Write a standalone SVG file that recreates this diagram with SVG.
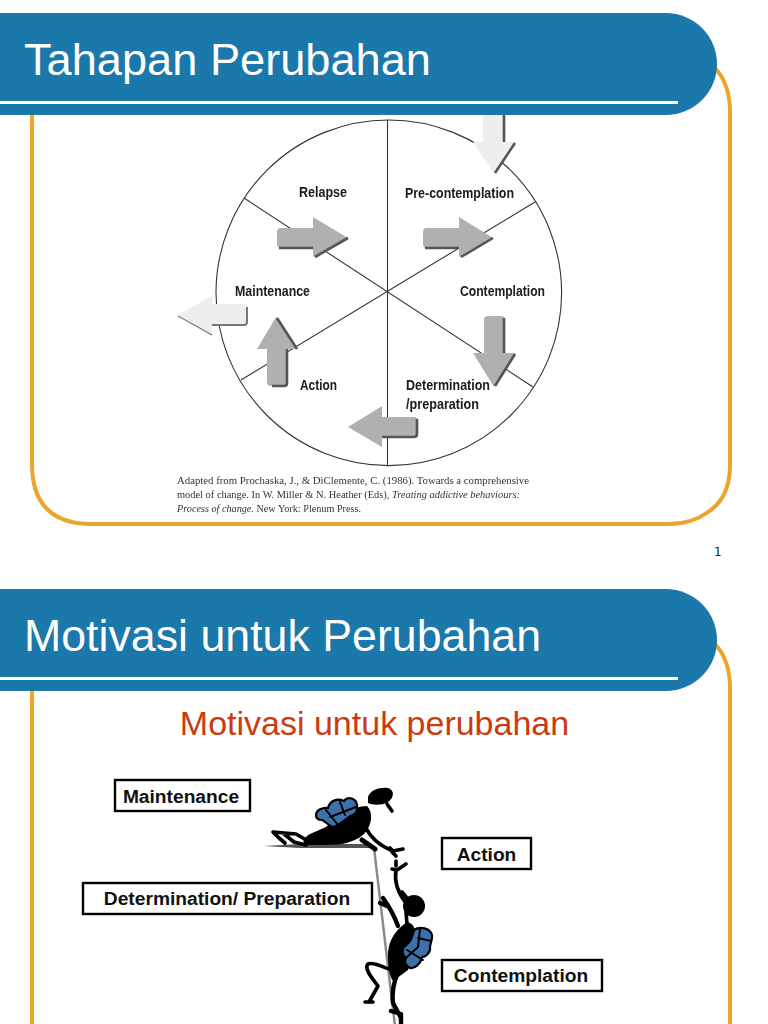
<svg xmlns="http://www.w3.org/2000/svg" width="768" height="1024" viewBox="0 0 768 1024">
<style>
.band{fill:#1a78ab}
.rule{fill:#fff}
.frame{fill:none;stroke:#eaa62a;stroke-width:4}
.title{font-family:"Liberation Sans",Arial,sans-serif;font-size:45px;fill:#fff}
.spoke{fill:none;stroke:#333;stroke-width:1.1}
.dark{fill:#b0b0b0}
.light{fill:#eeeeee}
.edge{fill:none;stroke:#555;stroke-width:2.6;stroke-linejoin:round}
.scan{font-family:"Liberation Sans Narrow","Liberation Sans",Arial,sans-serif;font-weight:bold;font-size:15px;fill:#1a1a1a}
.cite{font-family:"Liberation Serif","Times New Roman",serif;font-size:10.5px;fill:#333}
.box{fill:#fff;stroke:#000;stroke-width:2.4}
.lab{font-family:"Liberation Sans",Arial,sans-serif;font-weight:bold;font-size:19.2px;fill:#111;text-anchor:middle}
.sil{fill:#000}
.limb{fill:none;stroke:#000;stroke-width:3.6;stroke-linecap:round;stroke-linejoin:round}
.pack{fill:#3b70a8;stroke:#000;stroke-width:2.2;stroke-linejoin:round}
.div{fill:none;stroke:#000;stroke-width:2;stroke-linecap:round}
</style>
<defs><filter id="soft" x="-5%" y="-20%" width="110%" height="140%"><feGaussianBlur stdDeviation="0.35"/></filter></defs>

<g id="slide1-diagram">
<circle class="spoke" cx="388.800" cy="292.800" r="172.800"/>
<path class="spoke" d="M387.500 120V466M244 198L533 387M535 202L241 380"/>
</g>

<g id="arrow-relapse">
<path class="dark" d="M281 228H313V217L348 238L313 257V248H281Q277 248 277 244V232Q277 228 281 228Z"/>
<path class="edge" d="M279 248H313M315 257L348 238"/>
</g>
<g id="arrow-precontemplation">
<path class="dark" d="M427 228H459V217L493 238L459 257V248H427Q423 248 423 244V232Q423 228 427 228Z"/>
<path class="edge" d="M425 248H459M461 257L493 238"/>
</g>
<g id="arrow-contemplation">
<path class="dark" d="M484 320Q484 316 488 316H501Q505 316 505 320V353H515L494 387L473 353H484Z"/>
<path class="edge" d="M504 318V353M515 354L495 386"/>
</g>
<g id="arrow-determination">
<path class="dark" d="M348 427L382 406V417H414Q418 417 418 421V433Q418 437 414 437H382V447Z"/>
<path class="edge" d="M417 419V434Q417 437 414 437H382"/>
</g>
<g id="arrow-action">
<path class="dark" d="M276 317L297 349H288V382Q288 386 284 386H271Q267 386 267 382V349H257Z"/>
<path class="edge" d="M277 318L297 349M287 349V383Q287 386 284 386H272"/>
</g>
<g id="arrow-exit">
<path class="light" d="M178 315L212 296V304H244Q248 304 248 308V321Q248 325 244 325H212V335Z"/>
<path class="edge" style="stroke:#777;stroke-width:2" d="M247 307V322Q247 325 244 325H212"/>
<path class="edge" style="stroke:#777;stroke-width:1.2" d="M178 316L212 335"/>
</g>
<g id="arrow-entry">
<path class="light" d="M483 100H505V142H515L494 174L473 142H483Z"/>
<path class="edge" d="M504 100V142M515 143L495 173"/>
</g>

<g id="scan-labels" filter="url(#soft)">
<text class="scan" x="299" y="197" textLength="48" lengthAdjust="spacingAndGlyphs">Relapse</text>
<text class="scan" x="405" y="198" textLength="109" lengthAdjust="spacingAndGlyphs">Pre-contemplation</text>
<text class="scan" x="235" y="296" textLength="75" lengthAdjust="spacingAndGlyphs">Maintenance</text>
<text class="scan" x="460" y="296" textLength="85" lengthAdjust="spacingAndGlyphs">Contemplation</text>
<text class="scan" x="300" y="390" textLength="37" lengthAdjust="spacingAndGlyphs">Action</text>
<text class="scan" x="406" y="390" textLength="84" lengthAdjust="spacingAndGlyphs">Determination</text>
<text class="scan" x="406" y="409" textLength="73" lengthAdjust="spacingAndGlyphs">/preparation</text>
</g>

<g id="citation" filter="url(#soft)">
<text class="cite" x="177" y="484" textLength="352" lengthAdjust="spacingAndGlyphs">Adapted from Prochaska, J., &amp; DiClemente, C. (1986). Towards a comprehensive</text>
<text class="cite" x="177" y="498" textLength="343" lengthAdjust="spacingAndGlyphs">model of change. In W. Miller &amp; N. Heather (Eds), <tspan font-style="italic">Treating addictive behaviours:</tspan></text>
<text class="cite" x="177" y="512" textLength="184" lengthAdjust="spacingAndGlyphs"><tspan font-style="italic">Process of change.</tspan> New York: Plenum Press.</text>
</g>

<g id="slide1-frame">
<path class="frame" d="M715 68Q730 84 730 112V465Q730 498 708 512Q692 524 668 524H92Q32 524 32 464V110"/>
</g>
<g id="slide1-header">
<path class="band" d="M0 13H666A51 51 0 0 1 666 115H0Z"/>
<rect class="rule" x="0" y="101" width="678" height="3"/>
<text class="title" x="24" y="75" textLength="407" lengthAdjust="spacingAndGlyphs">Tahapan Perubahan</text>
</g>
<g id="page-number">
<text x="714" y="556" style="font-family:'DejaVu Sans',sans-serif;font-size:12px;fill:#222">1</text>
</g>

<g id="slide2-frame">
<path class="frame" d="M715 644Q730 660 730 688V1030M32 686V1030"/>
</g>
<g id="slide2-header">
<path class="band" d="M0 589H666A51 51 0 0 1 666 691H0Z"/>
<rect class="rule" x="0" y="677" width="678" height="3"/>
<text class="title" x="24" y="651" textLength="517" lengthAdjust="spacingAndGlyphs">Motivasi untuk Perubahan</text>
</g>
<g id="slide2-heading">
<text x="374.500" y="735" text-anchor="middle" style="font-family:'Liberation Sans',Arial,sans-serif;font-size:34px;fill:#cc3a10">Motivasi untuk perubahan</text>
</g>

<g id="climbers">
<path d="M263 846L300 844L370 844L372 848L300 848Z" fill="#555"/>
<path d="M373 850L375.500 850L396 1024H393.500Z" fill="#8a8a8a"/>
<path class="sil" d="M367 806C373 812 373 824 364 834C352 845 335 845 322 845L307 845C301 843 303 838 310 834L326 827C336 818 352 806 367 806Z"/>
<path class="sil" d="M368 797C370 790 380 787 388 788C395 790 394 798 388 802C381 806 372 805 368 803Z"/>
<path class="limb" d="M387 804L392 811"/>
<path class="limb" d="M366 828C371 838 380 846 393 851M393 851L403 849M392 852L396 856M390 848L393 851"/>
<path class="limb" style="stroke-width:5" d="M362 840L375 849"/>
<path class="limb" d="M308 841L296 834L273 832L279 838L285 843M306 845L294 842L284 834"/>
<g id="pack-top">
<path class="pack" d="M316 815C316 810 323 807 328 808C330 800 338 798 344 801C348 796 356 798 357 805C358 813 354 815 350 816C345 820 338 826 333 827C329 826 325 821 322 820C318 820 316 818 316 815Z"/>
<path class="div" d="M326 810L338 825M330 817L356 807M340 802L345 815"/>
</g>
<path class="sil" d="M407 922C412 923 416 927 415 935L413 957L408 970L393 981C389 975 388 967 388 955C388 945 392 932 407 922Z"/>
<ellipse class="sil" cx="414" cy="906" rx="11" ry="11"/>
<path class="limb" d="M402 892L407 898"/>
<path class="limb" d="M406 912L407 924M406 903C398 893 394 882 396 870M396 870L392 869M397 870L406 864M396 866L396 861"/>
<path class="limb" style="stroke-width:4.4" d="M398 926C394 915 388 905 383 898M380 903L387 906"/>
<path class="limb" d="M394 970C386 970 375 961 368 964C364 968 370 976 378 986L369 1002M365 1002L373 1002"/>
<path class="limb" style="stroke-width:4.4" d="M397 975C393 985 392 995 393 1003L401 1018M391 1011L401 1014L401 1023"/>
<g id="pack-bottom">
<path class="pack" d="M414 930C420 926 430 928 432 935C433 940 430 943 430 947C431 952 426 957 422 957C421 963 415 969 410 968C406 966 404 962 406 958C402 955 401 950 405 946C408 944 411 940 412 937Z"/>
<path class="div" d="M420 929L418 947L407 957M407 950L423 960M418 938L431 941"/>
</g>
</g>

<g id="box-maintenance">
<rect class="box" x="115" y="780" width="135" height="31"/>
<text class="lab" x="181" y="803">Maintenance</text>
</g>
<g id="box-action">
<rect class="box" x="442" y="838" width="89" height="31"/>
<text class="lab" x="486.500" y="861">Action</text>
</g>
<g id="box-determination">
<rect class="box" x="83" y="883" width="289" height="31"/>
<text class="lab" x="227" y="905">Determination/ Preparation</text>
</g>
<g id="box-contemplation">
<rect class="box" x="442" y="960" width="160" height="31"/>
<text class="lab" x="521" y="982">Contemplation</text>
</g>
</svg>
